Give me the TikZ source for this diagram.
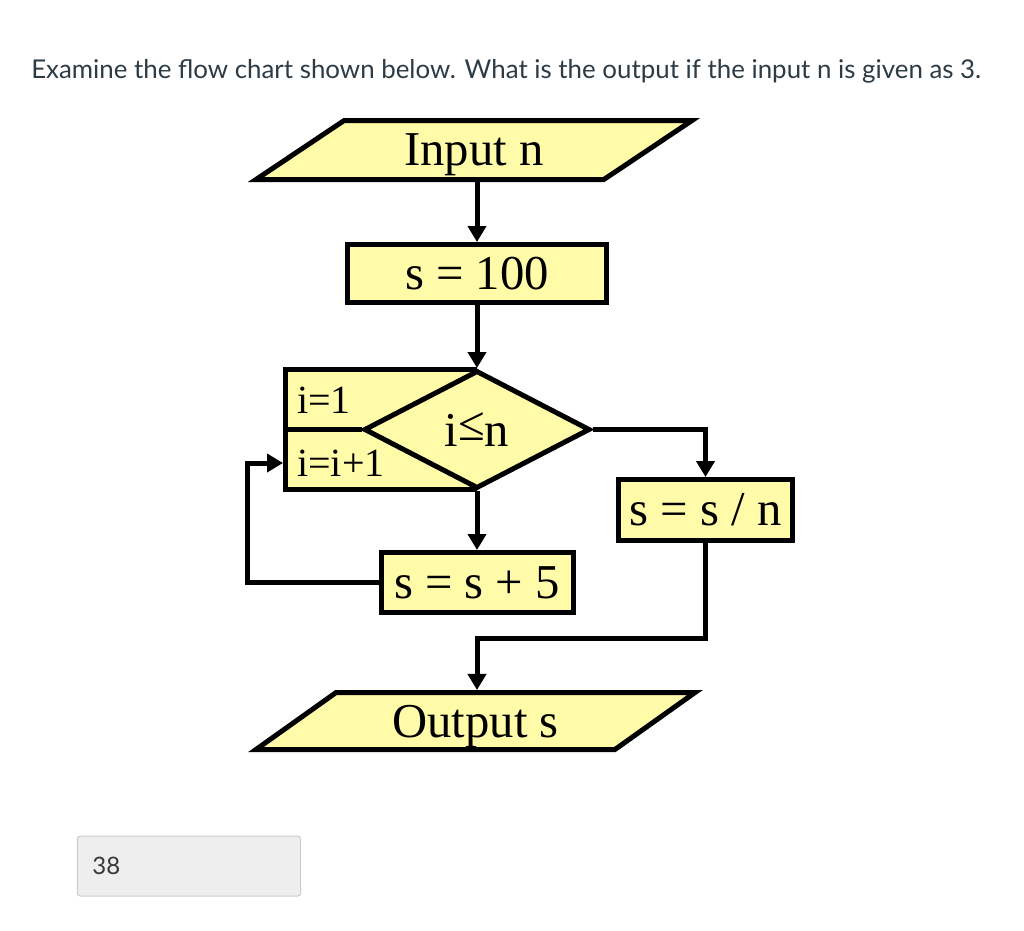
\documentclass[tikz,border=0pt]{standalone}
\usepackage{fontspec}
\setmainfont{Liberation Serif}
\newfontfamily\latofont{Lato}
\usetikzlibrary{shapes.geometric,arrows.meta}
\definecolor{boxyellow}{RGB}{255,251,168}
\definecolor{titlegray}{RGB}{45,59,69}
\definecolor{fieldgray}{RGB}{238,238,238}
\definecolor{fieldline}{RGB}{204,204,204}
\begin{document}
\begin{tikzpicture}[x=0.75pt,y=-0.75pt,
    line/.style={line width=3.75pt},
    arr/.style={line, -{Triangle[length=12pt,width=13.5pt]}},
    chart/.style={line, draw, fill=boxyellow, inner sep=0pt, font=\fontsize{36.5}{40}\selectfont},
    proc/.style={chart, rectangle},
    io/.style={chart, text depth=0pt, trapezium, trapezium left angle=34, trapezium right angle=146, trapezium stretches=true},
    cell/.style={anchor=west, inner sep=0pt, font=\fontsize{30}{34}\selectfont}]
    \useasboundingbox (0,0) rectangle (1024,931);
    \node [anchor=base west, font=\latofont\fontsize{19.4}{22}\selectfont, text=titlegray, inner sep=0pt] (title) at (31,79) {Examine the flow chart shown below. What is the output if the input n is given as 3.};
    \node [io, minimum width=327.75pt, minimum height=44.25pt] (in) at (474,150) {Input n};
    \node [proc, minimum width=194.25pt, minimum height=43.5pt] (init) at (477,273.5) {s = 100};
    \node [proc, minimum width=141.75pt, minimum height=90pt] (loop) at (380,429.5) {};
    \node [chart, diamond, minimum width=169.5pt, minimum height=88.5pt] (cond) at (477,429.5) {i\raisebox{0.3ex}{≤}n};
    \node [proc, minimum width=130.5pt, minimum height=45.75pt] (div) at (705.5,510) {s = s / n};
    \node [proc, minimum width=144pt, minimum height=45pt] (add) at (477,582.5) {s = s + 5};
    \node [io, minimum width=330pt, minimum height=42.75pt] (out) at (475.5,721) {Output s};
    \node [cell] (i1) at (297,400) {i=1};
    \node [cell] (i2) at (297,463) {i=i+1};
    \draw[line] (loop.west) -- (cond.west);
    \draw[arr] (in.south -| init.north) -- (init.north);
    \draw[arr] (init.south) -- (cond.north);
    \draw[arr] (cond.east) -| (div.north);
    \draw[arr] (cond.south) -- (add.north);
    \draw[arr] (add.west) -- ++(-131,0) |- (loop.west |- i2);
    \draw[arr] (div.south) -- ++(0,95) -| (out.north -| add.south);
    \node [draw=fieldline, fill=fieldgray, line width=0.75pt, rounded corners=2.25pt, text width=145pt, inner xsep=11.25pt, minimum height=45pt, align=left, font=\latofont\fontsize{18}{20}\selectfont, text=black!78] (ans) at (189,866) {38};
\end{tikzpicture}
\end{document}
